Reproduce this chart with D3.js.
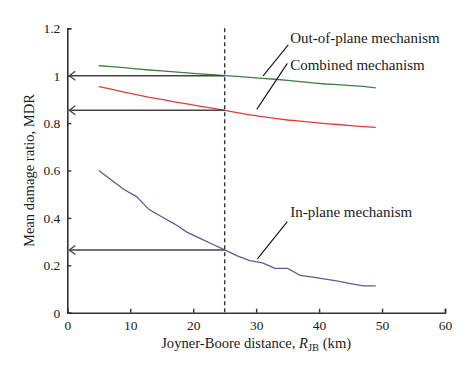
<!DOCTYPE html>
<html>
<head>
<meta charset="utf-8">
<script src="https://cdn.jsdelivr.net/npm/d3@7"></script>
<style>
  body { margin: 0; background: #fff; }
  text { font-family: "Liberation Serif", "DejaVu Serif", serif; fill: #1a1a1a; }
</style>
</head>
<body>
<div id="chart"></div>
<script>
// distances (km)
var distance = [5, 7, 9, 11, 13, 15, 17, 19, 21, 23, 25, 27, 29, 31, 33, 35, 37, 39, 41, 43, 45, 47, 49];
var outOfPlane = [1.042, 1.038, 1.034, 1.029, 1.024, 1.02, 1.016, 1.012, 1.008, 1.004, 1.0, 0.997, 0.993, 0.989, 0.985, 0.98, 0.975, 0.97, 0.965, 0.962, 0.958, 0.955, 0.949];
var combined = [0.954, 0.943, 0.931, 0.92, 0.909, 0.9, 0.89, 0.881, 0.872, 0.863, 0.854, 0.844, 0.835, 0.827, 0.82, 0.813, 0.808, 0.803, 0.798, 0.794, 0.789, 0.785, 0.782];
var inPlane = [0.60, 0.56, 0.52, 0.49, 0.435, 0.405, 0.375, 0.34, 0.315, 0.29, 0.265, 0.24, 0.22, 0.21, 0.187, 0.187, 0.157, 0.15, 0.142, 0.133, 0.123, 0.113, 0.113];

var xTicks = [0, 10, 20, 30, 40, 50, 60];
var yTicks = [0, 0.2, 0.4, 0.6, 0.8, 1, 1.2];

var refDistance = 25;
var arrowLevels = [1.0, 0.854, 0.265];

// labels: text anchor + leader line, in data units
var labels = [
  {text: "Out-of-plane mechanism", x: 35.4, y: 1.138, x1: 35.1, y1: 1.130, x2: 31.1, y2: 0.999},
  {text: "Combined mechanism", x: 35.4, y: 1.024, x1: 34.95, y1: 1.052, x2: 30.1, y2: 0.858},
  {text: "In-plane mechanism", x: 35.4, y: 0.4025, x1: 34.95, y1: 0.384, x2: 30.2, y2: 0.227}
];

var width = 474, height = 377;
var margin = {top: 28.3, right: 29, bottom: 64.3, left: 67.3};

var svgCanvas = d3.select("#chart")
  .append("svg")
  .attr("width", width)
  .attr("height", height);

var x = d3.scaleLinear().domain([0, 60]).range([margin.left, width - margin.right]);
var y = d3.scaleLinear().domain([0, 1.2]).range([height - margin.bottom, margin.top]);

var axisColor = "#333";

// x axis
var gx = svgCanvas.append("g")
  .attr("transform", "translate(0," + y(0) + ")")
  .call(d3.axisBottom(x).tickValues(xTicks).tickSize(-4).tickPadding(8).tickFormat(d3.format("d")));
// y axis
var gy = svgCanvas.append("g")
  .attr("transform", "translate(" + x(0) + ",0)")
  .call(d3.axisLeft(y).tickValues(yTicks).tickSize(-4).tickPadding(7).tickFormat(function(d){ return d3.format("")(+d.toFixed(1)); }));

[gx, gy].forEach(function(g){
  g.select(".domain").attr("stroke", axisColor).attr("stroke-width", 1.6);
  g.selectAll(".tick line").attr("stroke", axisColor).attr("stroke-width", 1.4);
  g.selectAll(".tick text").attr("fill", "#1a1a1a").style("font-size", "13.5px")
    .style("font-family", "'Liberation Serif', serif");
});

// dashed reference line
svgCanvas.append("line")
  .attr("x1", x(refDistance)).attr("x2", x(refDistance))
  .attr("y1", y(1.2)).attr("y2", y(0))
  .attr("stroke", "#333").attr("stroke-width", 1.4)
  .attr("stroke-dasharray", "4,3");

// series lines
var line = d3.line()
  .x(function(d, i){ return x(distance[i]); })
  .y(function(d){ return y(d); });

var series = [
  {values: outOfPlane, color: "#3f7f3f"},
  {values: combined, color: "#e83a30"},
  {values: inPlane, color: "#5a5b9c"}
];

svgCanvas.selectAll(".series")
  .data(series)
  .enter()
    .append("path")
      .attr("class", "series")
      .attr("fill", "none")
      .attr("stroke", function(d){ return d.color; })
      .attr("stroke-width", 1.3)
      .attr("d", function(d){ return line(d.values); });

// arrows back to the y axis
var arrows = svgCanvas.selectAll(".arrow")
  .data(arrowLevels)
  .enter()
    .append("g")
      .attr("class", "arrow");

arrows.append("line")
  .attr("x1", x(refDistance)).attr("x2", x(0) + 2)
  .attr("y1", function(d){ return y(d); })
  .attr("y2", function(d){ return y(d); })
  .attr("stroke", "#444").attr("stroke-width", 1.5);

arrows.append("path")
  .attr("fill", "none")
  .attr("stroke", "#444").attr("stroke-width", 1.3)
  .attr("d", function(d){
    var tx = x(0) + 2, ty = y(d);
    return "M" + (tx + 6) + "," + (ty - 4.5) + "L" + tx + "," + ty + "L" + (tx + 6) + "," + (ty + 4.5);
  });

// labels with leader lines
svgCanvas.selectAll(".leader")
  .data(labels)
  .enter()
    .append("line")
      .attr("class", "leader")
      .attr("x1", function(d){ return x(d.x1); })
      .attr("y1", function(d){ return y(d.y1); })
      .attr("x2", function(d){ return x(d.x2); })
      .attr("y2", function(d){ return y(d.y2); })
      .attr("stroke", "#111").attr("stroke-width", 1.1);

svgCanvas.selectAll(".label")
  .data(labels)
  .enter()
    .append("text")
      .attr("class", "label")
      .attr("x", function(d){ return x(d.x); })
      .attr("y", function(d){ return y(d.y); })
      .style("font-size", "15px")
      .text(function(d){ return d.text; });

// axis titles
var xTitle = svgCanvas.append("text")
  .attr("x", (x(0) + x(60)) / 2)
  .attr("y", 348)
  .attr("text-anchor", "middle")
  .style("font-size", "14.6px");
xTitle.append("tspan").text("Joyner-Boore distance, ");
xTitle.append("tspan").style("font-style", "italic").text("R");
xTitle.append("tspan").attr("dy", 3).style("font-size", "10.5px").text("JB");
xTitle.append("tspan").attr("dy", -3).text(" (km)");

svgCanvas.append("text")
  .attr("transform", "translate(34," + (y(0) + y(1.2)) / 2 + ") rotate(-90)")
  .attr("text-anchor", "middle")
  .style("font-size", "14.6px")
  .text("Mean damage ratio, MDR");
</script>
</body>
</html>
